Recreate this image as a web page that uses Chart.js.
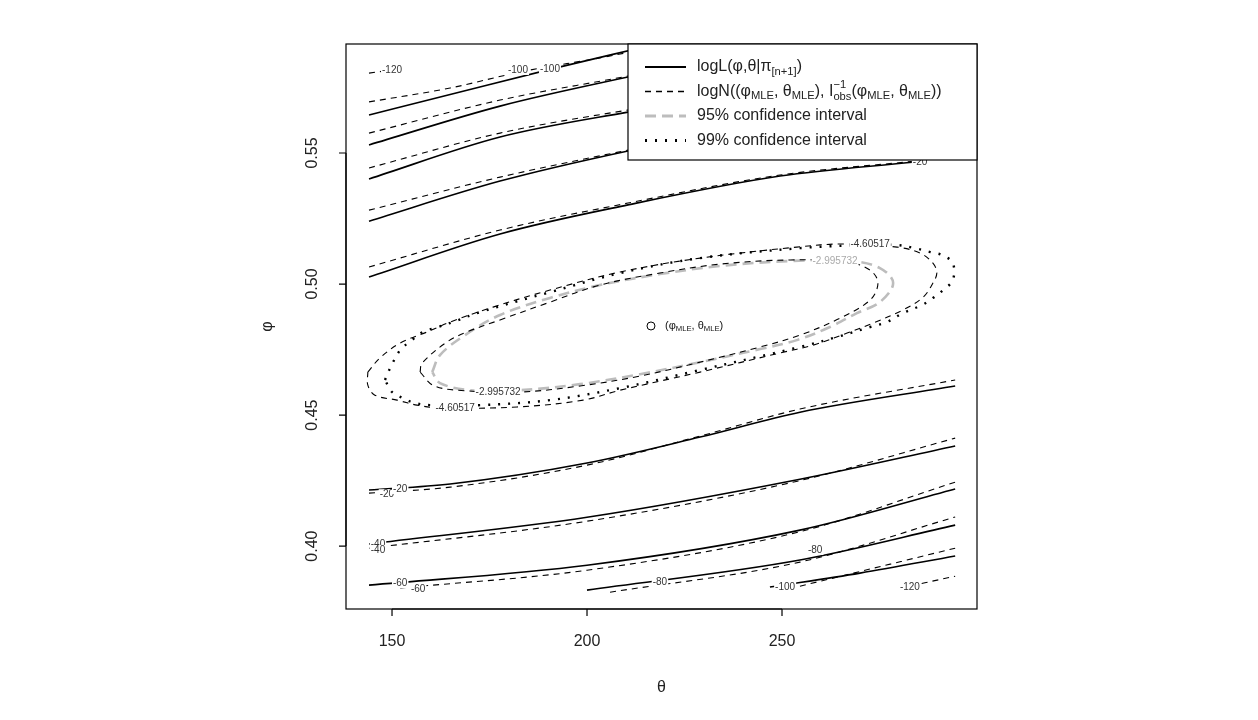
<!DOCTYPE html>
<html>
<head>
<meta charset="utf-8">
<script src="https://cdn.jsdelivr.net/npm/chart.js@4.4.1/dist/chart.umd.min.js"></script>
<style>
  body { margin: 0; background: #fff; }
  #wrap { width: 1258px; height: 720px; }
</style>
</head>
<body>
<div id="wrap"><canvas id="myChart" width="1258" height="720"></canvas></div>
<script>
// axis ranges and ticks
var thetaRange = [138.2, 300];
var phiRange = [0.376, 0.5916];
var thetaTicks = [150, 200, 250];
var phiTicks = [0.40, 0.45, 0.50, 0.55];

// logL contours (solid), [theta, phi]
var logL_up100 = [[144.1,0.5645],[164.9,0.5723],[191.8,0.5824],[213.6,0.5901]];
var logL_up80 = [[144.1,0.5531],[177.7,0.5679],[210.5,0.5790],[234.1,0.5863]];
var logL_up60 = [[144.1,0.5401],[177.7,0.5561],[210.5,0.5656],[234.1,0.5714]];
var logL_up40 = [[144.1,0.5240],[177.7,0.5393],[210.5,0.5508],[234.1,0.5576],[254.6,0.5626]];
var logL_up20 = [[144.1,0.5027],[177.7,0.5191],[210.5,0.5302],[249.5,0.5412],[284.1,0.5466]];
var logL_lo20 = [[144.1,0.4214],[164.9,0.4237],[200,0.4317],[229,0.4416],[254.6,0.4511],[294.4,0.4611]];
var logL_lo40 = [[144.1,0.4008],[200,0.4110],[254.6,0.4255],[294.4,0.4382]];
var logL_lo60 = [[144.1,0.3851],[200,0.3927],[254.6,0.4061],[294.4,0.4218]];
var logL_lo80 = [[200,0.3832],[254.6,0.3947],[294.4,0.4080]];
var logL_lo100 = [[246.9,0.3844],[270,0.3897],[294.4,0.3962]];

// normal approximation contours (dashed)
var logN_up120 = [[144.1,0.5805],[148.2,0.5813]];
var logN_up100 = [[144.1,0.5695],[164.9,0.5748],[182.8,0.5809],[203.3,0.5863],[213.6,0.5893]];
var logN_up80 = [[144.1,0.5576],[177.7,0.5702],[210.5,0.5794],[234.1,0.5866]];
var logN_up60 = [[144.1,0.5443],[177.7,0.5576],[210.5,0.5664],[234.1,0.5718]];
var logN_up40 = [[144.1,0.5282],[177.7,0.5408],[210.5,0.5511],[234.1,0.5580],[254.6,0.5630]];
var logN_up20 = [[144.1,0.5065],[177.7,0.5206],[210.5,0.5309],[249.5,0.5416],[284.1,0.5469]];
var logN_lo20 = [[144.1,0.4202],[164.9,0.4225],[200,0.4309],[229,0.4420],[254.6,0.4523],[294.4,0.4634]];
var logN_lo40 = [[144.1,0.3992],[200,0.4095],[254.6,0.4250],[294.4,0.4412]];
var logN_lo60 = [[152.1,0.3840],[200,0.3908],[254.6,0.4055],[294.4,0.4244]];
var logN_lo80 = [[205.9,0.3824],[254.6,0.3939],[294.4,0.4111]];
var logN_lo100 = [[254.6,0.3847],[294.4,0.3992]];
var logN_lo120 = [[280.3,0.3840],[294.4,0.3885]];

// confidence regions
var ci95_logL = [[160.3,0.4664],[162.3,0.4729],[168.7,0.4805],[177.7,0.4882],[190.5,0.4947],[203.3,0.4996],
  [218.7,0.5038],[234.1,0.5069],[252.1,0.5088],[267.4,0.5088],[275.1,0.5061],[278.5,0.5004],[275.1,0.4931],
  [269.2,0.4889],[262.3,0.4836],[253.8,0.4786],[244.4,0.4752],[229,0.4702],[213.6,0.4656],[198.2,0.4618],
  [182.8,0.4595],[170,0.4595],[162.3,0.4622],[160.3,0.4664]];
var ci95_logN = [[157.2,0.4664],[157.7,0.4698],[164.1,0.4779],[169.2,0.4817],[177.7,0.4863],[190.5,0.4931],
  [203.3,0.4996],[218.7,0.5042],[234.1,0.5076],[252.1,0.5092],[266.7,0.5084],[272.6,0.5053],[274.6,0.5004],
  [272.6,0.4939],[264.9,0.4870],[254.6,0.4805],[244.4,0.4760],[229,0.4702],[213.6,0.4649],[198.2,0.4611],
  [182.8,0.4588],[166.7,0.4595],[160.5,0.4614],[157.2,0.4664]];
var ci99_logN = [[143.8,0.4664],[146.9,0.4718],[152.1,0.4775],[159.0,0.4817],[164.9,0.4855],[175.9,0.4912],
  [190.5,0.4977],[208.5,0.5046],[229,0.5099],[253.8,0.5141],[265.6,0.5153],[279.5,0.5141],[285.4,0.5118],
  [288.7,0.5080],[289.7,0.5042],[288.7,0.5004],[286.2,0.4950],[281,0.4901],[273.3,0.4851],[266.7,0.4813],
  [258,0.4767],[249.5,0.4737],[229,0.4664],[208.5,0.4595],[199.0,0.4557],[182.1,0.4531],[162.3,0.4527],
  [156.4,0.4538],[151.3,0.4557],[145.6,0.4576],[143.8,0.4614],[143.8,0.4664]];
var ci99_logL = [[148.2,0.4634],[149.5,0.4679],[152.1,0.4748],[155.1,0.4786],[157.9,0.4817],[161.8,0.4836],
  [165.6,0.4855],[172.6,0.4893],[190.5,0.4969],[208.5,0.5042],[229,0.5099],[254.6,0.5137],[270.8,0.5149],
  [279.5,0.5149],[284.1,0.5137],[288,0.5122],[291,0.5111],[293.8,0.5080],[293.8,0.5015],[291.3,0.4977],
  [288.7,0.4947],[285.9,0.4920],[281,0.4889],[276.9,0.4855],[272.6,0.4836],[264.1,0.4798],[254.6,0.4760],
  [229,0.4672],[208.5,0.4603],[190.5,0.4557],[172.6,0.4538],[159.7,0.4538],[155.9,0.4546],[152.8,0.4565],
  [150,0.4588],[148.2,0.4634]];

var mle = [216.4, 0.4840];

// contour labels [text, theta, phi, colour]
var contourLabels = [
  ['-120',150,0.5817,'#333'],['-100',182.3,0.5817,'#333'],['-100',190.5,0.5821,'#333'],
  ['-20',285.4,0.5466,'#333'],['-20',148.7,0.4198,'#333'],['-20',152.1,0.4218,'#333'],
  ['-40',146.4,0.4008,'#333'],['-40',146.4,0.3985,'#333'],['-60',152.1,0.3859,'#333'],
  ['-60',156.7,0.3836,'#333'],['-80',218.7,0.3863,'#333'],['-80',258.5,0.3985,'#333'],
  ['-100',250.8,0.3844,'#333'],['-120',282.8,0.3844,'#333'],
  ['-4.60517',272.6,0.5153,'#333'],['-2.995732',263.6,0.5088,'#aaa'],
  ['-2.995732',177.2,0.4588,'#333'],['-4.60517',166.2,0.4527,'#333']
];

function pts(a) { return a.map(function (p) { return { x: p[0], y: p[1] }; }); }

var solidStyle = { borderColor: '#000', borderWidth: 1.6, borderDash: [] };
var dashStyle = { borderColor: '#000', borderWidth: 1.1, borderDash: [6, 5] };
var ci95Style = { borderColor: '#bdbdbd', borderWidth: 2.6, borderDash: [11, 6] };
var ci99Style = { borderColor: '#000', borderWidth: 2.4, borderDash: [2, 8] };

var datasets = [];
function add(arr, style, closed) {
  var ds = Object.assign({ data: pts(arr), showLine: true, pointRadius: 0, fill: false }, style);
  if (closed) ds.tension = 0.35; else ds.cubicInterpolationMode = 'monotone';
  datasets.push(ds);
}
[logN_up120, logN_up100, logN_up80, logN_up60, logN_up40, logN_up20, logN_lo20, logN_lo40, logN_lo60,
 logN_lo80, logN_lo100, logN_lo120].forEach(function (a) { add(a, dashStyle, false); });
add(ci95_logN, dashStyle, true);
add(ci99_logN, dashStyle, true);
[logL_up100, logL_up80, logL_up60, logL_up40, logL_up20, logL_lo20, logL_lo40, logL_lo60,
 logL_lo80, logL_lo100].forEach(function (a) { add(a, solidStyle, false); });
add(ci95_logL, ci95Style, true);
add(ci99_logL, ci99Style, true);
datasets.push({ data: [{ x: mle[0], y: mle[1] }], pointRadius: 4, pointBorderColor: '#000', pointBorderWidth: 1,
  pointBackgroundColor: 'rgba(0,0,0,0)', showLine: false });

// rich text: segments [text, 'n'|'sub'|'supsub', extra]
function rich(ctx, segs, x, y, size) {
  segs.forEach(function (s) {
    if (s[1] === 'n') {
      ctx.font = size + 'px "Liberation Sans", Arial';
      ctx.fillText(s[0], x, y); x += ctx.measureText(s[0]).width;
    } else if (s[1] === 'sub') {
      ctx.font = (size * 0.7) + 'px "Liberation Sans", Arial';
      ctx.fillText(s[0], x, y + size * 0.3); x += ctx.measureText(s[0]).width;
    } else if (s[1] === 'supsub') {
      ctx.font = (size * 0.7) + 'px "Liberation Sans", Arial';
      ctx.fillText(s[0], x, y - size * 0.4);
      ctx.fillText(s[2], x, y + size * 0.35);
      x += Math.max(ctx.measureText(s[0]).width, ctx.measureText(s[2]).width);
    }
  });
  return x;
}

var decor = {
  id: 'decor',
  afterDatasetsDraw: function (chart) {
    var ctx = chart.ctx, a = chart.chartArea;
    var xs = chart.scales.x, ys = chart.scales.y;
    ctx.save();
    // contour labels
    ctx.font = '10px "Liberation Sans", Arial';
    ctx.textAlign = 'center'; ctx.textBaseline = 'middle';
    contourLabels.forEach(function (l) {
      var px = xs.getPixelForValue(l[1]), py = ys.getPixelForValue(l[2]);
      var w = ctx.measureText(l[0]).width;
      ctx.fillStyle = '#fff'; ctx.fillRect(px - w / 2 - 1, py - 5, w + 2, 10);
      ctx.fillStyle = l[3]; ctx.fillText(l[0], px, py);
    });
    // MLE label
    ctx.textAlign = 'left'; ctx.fillStyle = '#111';
    rich(ctx, [['(φ', 'n'], ['MLE', 'sub'], [', θ', 'n'], ['MLE', 'sub'], [')', 'n']],
      xs.getPixelForValue(mle[0]) + 14, ys.getPixelForValue(mle[1]), 11);
    // box
    ctx.strokeStyle = '#000'; ctx.lineWidth = 1.2; ctx.setLineDash([]);
    ctx.strokeRect(a.left, a.top, a.right - a.left, a.bottom - a.top);
    // axes
    ctx.beginPath();
    ctx.moveTo(xs.getPixelForValue(thetaTicks[0]), a.bottom);
    ctx.lineTo(xs.getPixelForValue(thetaTicks[thetaTicks.length - 1]), a.bottom);
    thetaTicks.forEach(function (t) {
      var p = xs.getPixelForValue(t); ctx.moveTo(p, a.bottom); ctx.lineTo(p, a.bottom + 7);
    });
    ctx.moveTo(a.left, ys.getPixelForValue(phiTicks[0]));
    ctx.lineTo(a.left, ys.getPixelForValue(phiTicks[phiTicks.length - 1]));
    phiTicks.forEach(function (t) {
      var p = ys.getPixelForValue(t); ctx.moveTo(a.left, p); ctx.lineTo(a.left - 7, p);
    });
    ctx.stroke();
    ctx.fillStyle = '#222'; ctx.font = '16px "Liberation Sans", Arial';
    ctx.textAlign = 'center'; ctx.textBaseline = 'middle';
    thetaTicks.forEach(function (t) { ctx.fillText(String(t), xs.getPixelForValue(t), a.bottom + 33); });
    phiTicks.forEach(function (t) {
      ctx.save(); ctx.translate(a.left - 33, ys.getPixelForValue(t)); ctx.rotate(-Math.PI / 2);
      ctx.fillText(t.toFixed(2), 0, 0); ctx.restore();
    });
    ctx.fillText('θ', (a.left + a.right) / 2, 688);
    ctx.save(); ctx.translate(268, (a.top + a.bottom) / 2); ctx.rotate(-Math.PI / 2);
    ctx.fillText('φ', 0, 0); ctx.restore();
    // legend
    var lx = 628, ly = a.top, lw = a.right - 628, lh = 116;
    ctx.fillStyle = '#fff'; ctx.fillRect(lx, ly, lw, lh);
    ctx.strokeStyle = '#000'; ctx.lineWidth = 1.2; ctx.strokeRect(lx, ly, lw, lh);
    var rows = [
      [solidStyle, [['logL(φ,θ|π', 'n'], ['[n+1]', 'sub'], [')', 'n']]],
      [dashStyle, [['logN((φ', 'n'], ['MLE', 'sub'], [', θ', 'n'], ['MLE', 'sub'], ['), I', 'n'], ['−1', 'supsub', 'obs'],
        ['(φ', 'n'], ['MLE', 'sub'], [', θ', 'n'], ['MLE', 'sub'], ['))', 'n']]],
      [ci95Style, [['95% confidence interval', 'n']]],
      [ci99Style, [['99% confidence interval', 'n']]]
    ];
    ctx.textAlign = 'left';
    rows.forEach(function (r, i) {
      var y = ly + 23 + i * 24.5;
      ctx.beginPath(); ctx.strokeStyle = r[0].borderColor; ctx.lineWidth = r[0].borderWidth + 0.4;
      ctx.setLineDash(r[0].borderDash); ctx.moveTo(645, y); ctx.lineTo(686, y); ctx.stroke();
      ctx.fillStyle = '#222';
      rich(ctx, r[1], 697, y, 16);
    });
    ctx.restore();
  }
};

var ctx = document.getElementById('myChart').getContext('2d');
new Chart(ctx, {
  type: 'scatter',
  data: { datasets: datasets },
  options: {
    responsive: false,
    animation: false,
    layout: { padding: { left: 346, right: 281, top: 44, bottom: 111 } },
    plugins: { legend: { display: false }, tooltip: { enabled: false } },
    scales: {
      x: { type: 'linear', min: thetaRange[0], max: thetaRange[1], display: false },
      y: { type: 'linear', min: phiRange[0], max: phiRange[1], display: false }
    }
  },
  plugins: [decor]
});
</script>
</body>
</html>
